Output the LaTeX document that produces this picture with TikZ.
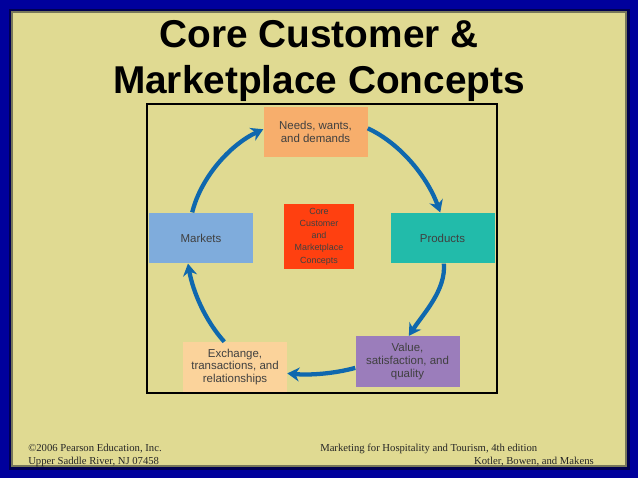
\documentclass[tikz,border=0pt]{standalone}
\usepackage{fontspec}
\setmainfont{Liberation Sans}
\newfontfamily\footfont{Liberation Serif}
\usetikzlibrary{arrows.meta}
\definecolor{slideblue}{HTML}{00009C}
\definecolor{slidenavy}{HTML}{000050}
\definecolor{slideedge}{HTML}{77775A}
\definecolor{slidepaper}{HTML}{E0DA92}
\definecolor{arrowblue}{HTML}{0F68AE}
\tikzset{boxnode/.style={inner sep=0pt, minimum width=78pt, minimum height=38pt, align=center, text=black!75, font=\fontsize{8.6}{9.7}\selectfont},
titlenode/.style={align=center, font=\fontsize{29.1}{35.2}\selectfont\bfseries},
footnode/.style={font=\footfont\fontsize{8}{10}\selectfont, text=black!85, inner sep=0pt},
cyclearrow/.style={line width=3.2pt, arrowblue, looseness=0.85, -{Stealth[length=9pt, width=10.5pt]}},}

\begin{document}
\begin{tikzpicture}[x=0.75pt, y=0.75pt]
\useasboundingbox (0,0) rectangle (638,478);
% slide background
\fill[slideblue] (0,0) rectangle (638,478);
\fill[slidenavy] (9,8) rectangle (630,469);
\fill[slidepaper, draw=slideedge, line width=1.2pt] (12,12) rectangle (626,466);
\node [titlenode] (title) at (319,417) {Core Customer \&\\Marketplace Concepts};
\draw[line width=2.2pt] (147,374) rectangle (497,85);
% boxes
\node [boxnode, fill={rgb,255:red,247;green,174;blue,108}, minimum height=37.5pt] (needs) at (315.5,346) {Needs, wants,\\and demands};
\node [boxnode, fill={rgb,255:red,127;green,172;blue,220}] (markets) at (201,240) {Markets};
\node [boxnode, fill={rgb,255:red,34;green,187;blue,170}] (products) at (442.5,240) {Products};
\node [boxnode, fill={rgb,255:red,155;green,125;blue,187}] (value) at (407.5,116.5) {Value,\\satisfaction, and\\quality};
\node [boxnode, fill={rgb,255:red,251;green,211;blue,155}, minimum height=37.5pt] (exchange) at (235,111) {Exchange,\\transactions, and\\relationships};
\node [boxnode, fill={rgb,255:red,255;green,64;blue,16}, minimum width=52.5pt, minimum height=49pt, font=\fontsize{6.7}{9.2}\selectfont] (core) at (319,241.5) {Core\\Customer\\and\\Marketplace\\Concepts};
% cycle
\draw[cyclearrow] (markets.109) to[out=76, in=205] (needs.177);
\draw[cyclearrow] (needs.4) to[out=-25, in=110] (products.95);
\draw[cyclearrow] (products.-87) to[out=-85, in=57] (value.87);
\draw[cyclearrow] (value.187) to[out=195, in=-5] (exchange.-7);
\draw[cyclearrow] (exchange.113) to[out=132, in=-80] (markets.-117);
% footer
\node [footnode, anchor=base west] (copyright) at (28,27) {©2006 Pearson Education, Inc.};
\node [footnode, anchor=base west] (address) at (28,14) {Upper Saddle River, NJ 07458};
\node [footnode, anchor=base west] (book) at (320,27) {Marketing for Hospitality and Tourism, 4th edition};
\node [footnode, anchor=base east] (authors) at (594,14) {Kotler, Bowen, and Makens};
\end{tikzpicture}
\end{document}
